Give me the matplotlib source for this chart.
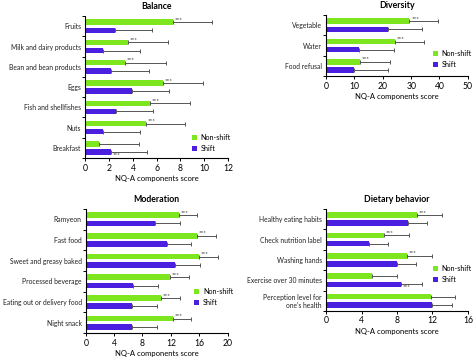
import matplotlib
matplotlib.use("Agg")
import matplotlib.pyplot as plt
import numpy as np

plt.rcParams['font.family'] = ['Lato', 'DejaVu Sans']

GREEN = '#7ee61e'
BLUE = '#4b1fe0'

# Balance
bal_cats = ["Fruits", "Milk and dairy products", "Bean and bean products", "Eggs",
            "Fish and shellfishes", "Nuts", "Breakfast"]
bal_ns = [7.34, 3.59, 3.33, 6.5, 5.43, 5.07, 1.12]
bal_ns_err = [3.33, 3.38, 3.42, 3.42, 3.39, 3.33, 3.36]
bal_s = [2.52, 1.51, 2.18, 3.89, 2.6, 1.51, 2.13]
bal_s_err = [3.11, 3.08, 3.17, 3.11, 3.11, 3.11, 3.08]
bal_ns_sig = [True, True, True, True, True, True, False]
bal_s_sig = [False, False, False, False, False, False, True]

# Diversity
div_cats = ["Vegetable", "Water", "Food refusal"]
div_ns = [29.4, 24.4, 11.9]
div_ns_err = [10.1, 10.1, 10.5]
div_s = [21.8, 11.7, 10.0]
div_s_err = [12.2, 12.1, 12.0]
div_ns_sig = [True, True, True]
div_s_sig = [False, False, False]

# Moderation
mod_cats = ["Ramyeon", "Fast food", "Sweet and greasy baked", "Processed beverage",
            "Eating out or delivery food", "Night snack"]
mod_ns = [13.1, 15.7, 16.0, 11.9, 10.6, 12.3]
mod_ns_err = [2.6, 2.7, 2.7, 2.6, 2.7, 2.6]
mod_s = [9.8, 11.4, 12.6, 6.7, 6.5, 6.5]
mod_s_err = [3.5, 3.5, 3.5, 3.5, 3.6, 3.6]
mod_ns_sig = [True, True, True, True, True, True]
mod_s_sig = [False, False, False, False, False, False]

# Dietary behavior
diet_cats = ["Healthy eating habits", "Check nutrition label", "Washing hands",
             "Exercise over 30 minutes", "Perception level for\none's health"]
diet_ns = [10.3, 6.5, 9.1, 5.2, 11.8]
diet_ns_err = [2.8, 2.9, 2.8, 2.8, 2.8]
diet_s = [9.2, 4.8, 8.0, 8.5, 12.0]
diet_s_err = [2.2, 2.2, 2.2, 2.3, 2.2]
diet_ns_sig = [True, True, True, False, False]
diet_s_sig = [False, False, False, True, False]

fig = plt.figure(figsize=(4.74, 3.59), dpi=100)

FS = 4.9


def panel(rect, title, cats, ns, ns_err, s, s_err, ns_sig, s_sig, xmax, xticks, leg_pos):
    ax = fig.add_axes(rect)
    n = len(cats)
    y = np.arange(n)
    h = 0.27
    ekw = dict(ecolor='#555555', elinewidth=0.7, capsize=1.5, capthick=0.7)
    ax.barh(y - 0.2, ns, height=h, color=GREEN, label='Non-shift',
            xerr=[np.zeros(n), ns_err], error_kw=ekw)
    ax.barh(y + 0.2, s, height=h, color=BLUE, label='Shift',
            xerr=[np.zeros(n), s_err], error_kw=ekw)
    for i in range(n):
        if ns_sig[i]:
            ax.text(ns[i] + xmax * 0.012, y[i] - 0.2 - h / 2, '***', fontsize=4.5,
                    ha='left', va='center', color='#222222')
        if s_sig[i]:
            ax.text(s[i] + xmax * 0.012, y[i] + 0.2 + h / 2, '***', fontsize=4.5,
                    ha='left', va='center', color='#222222')
    ax.set_ylim(n - 0.5, -0.5)
    ax.set_xlim(0, xmax)
    ax.set_xticks(xticks)
    ax.set_xticklabels([str(t) for t in xticks], fontsize=6.2)
    ax.set_yticks(y)
    ax.set_yticklabels(cats, fontsize=FS, color='#222222')
    ax.tick_params(axis='y', length=0, pad=3)
    ax.set_yticks(np.arange(n + 1) - 0.5, minor=True)
    ax.tick_params(axis='y', which='minor', length=2.5, width=0.7)
    ax.tick_params(axis='x', length=2.5, width=0.7, pad=1.5)
    for sp in ['top', 'right']:
        ax.spines[sp].set_visible(False)
    for sp in ['left', 'bottom']:
        ax.spines[sp].set_linewidth(0.8)
    ax.set_xlabel('NQ-A components score', fontsize=5.5, labelpad=2)
    ax.set_title(title, fontsize=6.3, fontweight='bold', pad=5)
    ax.legend(loc='center left', bbox_to_anchor=leg_pos, frameon=False, fontsize=5.2,
              handlelength=0.7, handleheight=0.7, handletextpad=0.5, labelspacing=0.6,
              borderpad=0)
    return ax


panel([0.180, 0.560, 0.301, 0.395], 'Balance', bal_cats, bal_ns, bal_ns_err, bal_s, bal_s_err,
      bal_ns_sig, bal_s_sig, 12, [0, 2, 4, 6, 8, 10, 12], (0.72, 0.105))
panel([0.688, 0.788, 0.299, 0.170], 'Diversity', div_cats, div_ns, div_ns_err, div_s, div_s_err,
      div_ns_sig, div_s_sig, 50, [0, 10, 20, 30, 40, 50], (0.73, 0.28))
panel([0.181, 0.072, 0.299, 0.346], 'Moderation', mod_cats, mod_ns, mod_ns_err, mod_s, mod_s_err,
      mod_ns_sig, mod_s_sig, 20, [0, 4, 8, 12, 16, 20], (0.74, 0.29))
panel([0.688, 0.134, 0.299, 0.284], 'Dietary behavior', diet_cats, diet_ns, diet_ns_err, diet_s,
      diet_s_err, diet_ns_sig, diet_s_sig, 16, [0, 4, 8, 12, 16], (0.73, 0.36))

fig.savefig('out.png', dpi=100)
